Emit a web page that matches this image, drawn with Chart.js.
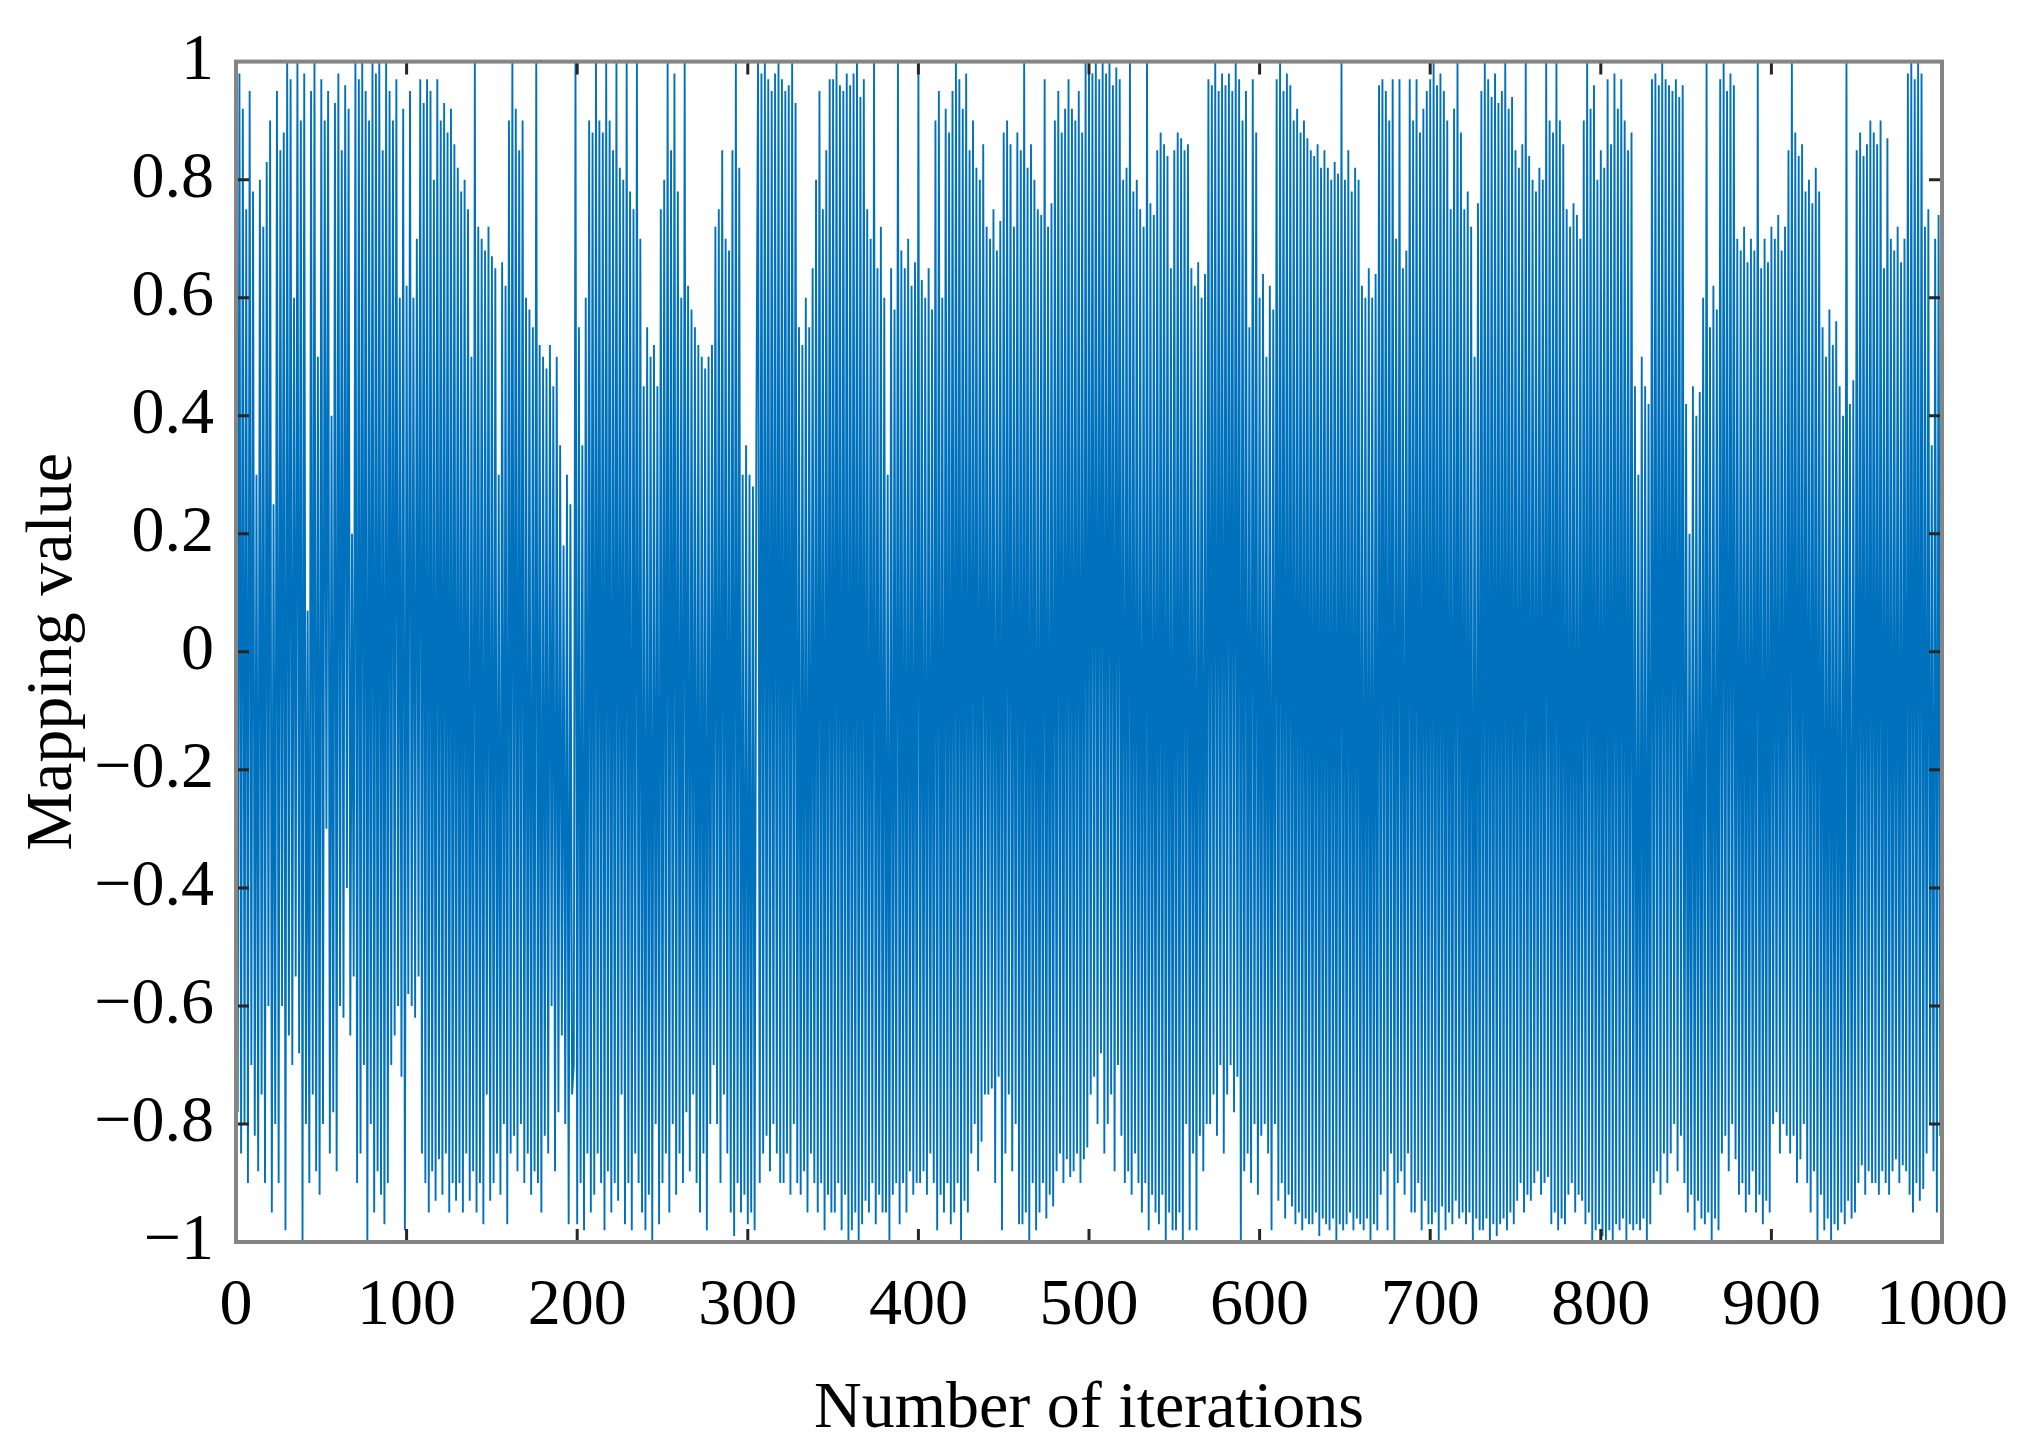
<!DOCTYPE html>
<html>
<head>
<meta charset="utf-8">
<title>Mapping value</title>
<script src="https://cdn.jsdelivr.net/npm/chart.js@4.4.0/dist/chart.umd.min.js"></script>
<style>
  html, body { margin: 0; padding: 0; background: #fff; }
  #wrap { width: 2033px; height: 1449px; position: relative; }
</style>
</head>
<body>
<div id="wrap"><canvas id="mapChart"></canvas></div>
<script>
// x axis: iteration index 0..1000
const xTicks = [0, 100, 200, 300, 400, 500, 600, 700, 800, 900, 1000];
const yTicks = [-1, -0.8, -0.6, -0.4, -0.2, 0, 0.2, 0.4, 0.6, 0.8, 1];

// mapping values, 10 per row (iterations 0..1000)
const mappingValues = [
  0.6,-0.78,0.98,-0.85,0.92,-0.8,0.75,-0.9,0.95,-0.7,
  0.78,-0.82,0.3,-0.88,0.8,-0.75,0.72,-0.9,0.83,-0.6,
  0.9,-0.95,0.25,-0.8,0.95,-0.9,0.85,-0.6,0.88,-0.98,
  1,-0.65,0.97,-0.7,0.6,-0.55,1,-0.68,0.9,-1,
  0.98,-0.8,0.07,-0.9,0.95,-0.75,1,-0.88,0.5,-0.92,
  0.97,-0.8,0.9,-0.3,0.95,-0.85,0.4,-0.78,0.93,-0.88,
  0.98,-0.6,0.85,-0.62,0.96,-0.4,0.92,-0.65,0.2,-0.55,
  1,-0.9,0.97,-0.85,1,-0.7,0.95,-1,0.9,-0.8,
  1,-0.95,0.98,-0.88,1,-0.92,0.85,-0.97,1,-0.9,
  0.95,-0.7,0.9,-0.65,0.97,-0.6,0.6,-0.72,0.92,-0.98,
  0.62,-0.58,0.95,-0.6,0.6,-0.62,0.7,-0.55,0.97,-0.85,
  0.93,-0.9,0.97,-0.95,0.95,-0.88,0.8,-0.93,0.97,-0.86,
  0.9,-0.92,0.93,-0.85,0.88,-0.95,0.92,-0.9,0.86,-0.93,
  0.82,-0.9,0.78,-0.95,0.8,-0.85,0.75,-0.93,0.5,-0.88,
  1,-0.95,0.72,-0.9,0.7,-0.97,0.68,-0.75,0.72,-0.93,
  0.67,-0.9,0.65,-0.85,0.3,-0.92,0.66,-0.8,0.62,-0.97,
  0.9,-0.85,1,-0.82,0.92,-0.88,0.85,-0.8,0.9,-0.9,
  0.6,-0.85,0.58,-0.92,0.55,-0.88,1,-0.9,0.52,-0.95,
  0.5,-0.82,0.48,-0.85,0.52,-0.6,0.45,-0.88,0.5,-0.78,
  0.35,-0.65,0.18,-0.8,0.3,-0.97,0.25,-0.75,-0.7,1,
  -0.97,0.55,-0.9,0.35,-0.98,0.6,-0.85,0.9,-0.95,0.88,
  -0.92,1,-0.85,0.9,-0.9,0.88,-0.98,1,-0.88,0.9,
  -0.95,0.85,-0.9,1,-0.93,0.82,-0.75,0.8,-0.97,1,
  -0.9,0.78,-0.98,0.75,-0.85,1,-0.9,0.7,-0.95,0.45,
  -0.98,0.55,-0.92,0.5,-1,0.52,-0.8,0.45,-0.97,0.75,
  -0.9,0.8,-0.85,1,-0.95,0.85,-0.8,0.98,-0.92,0.78,
  -0.85,0.6,-0.9,1,-0.78,0.62,-0.88,0.58,-0.75,0.55,
  -0.9,0.52,-0.95,0.5,-0.85,0.48,-0.98,0.5,-0.8,0.52,
  -0.7,0.72,-0.8,0.75,-0.9,0.85,-0.75,0.7,-0.85,0.68,
  -0.95,0.85,-0.99,1,-0.9,0.82,-0.95,0.3,-0.92,0.35,
  -0.97,0.3,-0.95,0.28,-0.98,0.35,1,-0.9,0.98,-0.85,
  1,-0.82,0.97,-0.88,0.95,-0.8,0.98,-0.85,1,-0.9,
  0.97,-0.9,0.95,-0.85,0.96,-0.92,1,-0.8,0.93,-0.9,
  0.55,-0.92,0.52,-0.88,0.6,-0.95,0.55,-0.85,0.65,-0.9,
  0.8,-0.95,0.95,-0.9,0.75,-0.98,0.85,-0.92,0.97,-0.95,
  0.97,-0.95,1,-0.9,0.96,-0.98,0.95,-0.92,0.98,-1,
  0.96,-0.98,0.98,-0.95,1,-1,0.94,-0.97,0.97,-0.93,
  0.75,-0.95,0.7,-0.9,1,-0.97,0.65,-0.92,0.72,-0.95,
  0.6,-0.95,0.3,-1,0.65,-0.92,0.58,-0.9,1,-0.97,
  0.68,-0.9,0.65,-0.95,0.7,-0.88,0.62,-0.92,0.66,-0.9,
  1,-0.9,0.63,-0.88,0.6,-0.92,0.65,-0.85,0.58,-0.9,
  0.9,-0.98,0.95,-0.92,0.6,-0.95,0.92,-0.9,0.88,-0.97,
  0.95,-0.95,1,-0.9,0.97,-1,0.92,-0.93,0.98,-0.95,
  0.85,-0.85,0.9,-0.8,0.82,-0.88,0.8,-0.83,0.86,-0.75,
  0.72,-0.75,0.7,-0.74,0.75,-0.9,0.68,-0.72,0.73,-0.98,
  0.88,-0.85,0.9,-0.75,0.86,-0.88,0.72,-0.8,0.88,-0.97,
  0.85,-0.97,1,-0.95,0.82,-1,0.86,-0.9,0.8,-0.98,
  0.75,-0.95,0.74,-0.9,0.97,-0.96,0.72,-0.92,0.76,-0.94,
  0.9,-0.88,0.95,-0.85,0.88,-0.9,0.92,-0.86,0.97,-0.89,
  0.92,-0.88,0.9,-0.85,0.95,-0.9,0.88,-0.86,1,-0.84,
  1,-0.75,0.98,-0.72,1,-0.8,0.97,-0.68,1,-0.85,
  0.98,-0.8,1,-0.75,0.96,-0.88,0.99,-0.7,0.97,-0.82,
  0.8,-0.9,0.82,-0.88,1,-0.92,0.78,-0.85,0.8,-0.9,
  0.75,-0.95,0.72,-0.9,1,-0.98,0.76,-0.92,0.74,-0.95,
  0.85,-0.97,0.88,-0.92,0.86,-1,0.84,-0.95,0.65,-0.98,
  0.85,-0.98,0.88,-0.95,0.87,-1,0.85,-0.8,0.86,-0.98,
  0.65,-0.85,0.62,-0.98,0.66,-0.82,0.6,-0.88,0.64,-0.8,
  0.97,-0.8,0.96,-0.75,1,-0.82,0.95,-0.7,0.98,-0.85,
  0.96,-0.75,0.98,-0.7,0.95,-0.78,1,-0.72,0.97,-1,
  0.9,-0.88,0.95,-0.85,0.55,-0.9,0.97,-0.8,0.88,-0.92,
  0.6,-0.82,0.64,-0.8,0.5,-0.85,0.62,-0.98,0.58,-0.8,
  0.97,-0.93,1,-0.9,0.95,-0.96,0.98,-0.92,0.96,-0.94,
  0.9,-0.97,0.92,-0.95,0.88,-0.98,0.9,-0.96,0.87,-0.97,
  0.85,-0.97,0.84,-0.95,0.86,-0.99,0.82,-0.96,0.85,-0.97,
  0.82,-0.98,0.8,-0.96,0.83,-1,0.81,-0.97,1,-0.98,
  0.8,-0.97,0.85,-0.95,0.78,-0.98,0.82,-0.96,0.8,-0.97,
  0.62,-0.98,0.6,-0.96,0.65,-1,0.6,-0.97,0.64,-0.98,
  0.96,-0.92,0.97,-0.88,0.95,-0.98,0.9,-0.85,0.97,-1,
  0.7,-0.9,0.97,-0.88,0.65,-0.92,0.68,-0.85,0.97,-0.95,
  0.9,-0.95,0.97,-0.9,0.88,-0.98,0.92,-0.93,0.95,-0.97,
  0.97,-0.97,1,-0.95,0.96,-1,0.98,-0.94,0.95,-0.98,
  0.9,-0.95,0.75,-0.97,0.92,-0.93,1,-0.96,0.88,-0.95,
  0.75,-0.97,0.78,-0.95,0.72,-1,0.5,-0.96,0.76,-0.98,
  0.95,-0.98,1,-0.96,0.97,-1,0.94,-0.97,0.98,-0.99,
  0.93,-0.97,0.95,-0.96,1,-0.98,0.92,-0.95,0.94,-0.97,
  0.85,-0.93,0.82,-0.9,0.86,-0.95,1,-0.92,0.84,-0.93,
  0.8,-0.9,0.78,-0.88,0.82,-0.92,0.8,-0.9,1,-0.89,
  0.9,-0.97,0.88,-0.95,1,-0.98,0.9,-0.96,0.86,-0.97,
  0.75,-0.92,0.72,-0.9,0.76,-0.95,0.74,-0.92,0.7,-0.93,
  0.9,-0.97,1,-0.95,0.92,-1,0.96,-0.98,0.8,-0.97,
  0.85,-0.99,0.82,-1,0.97,-0.98,0.86,-1,0.98,-0.97,
  0.92,-0.98,0.97,-0.96,0.9,-1,0.85,-0.97,0.88,-0.98,
  0.45,-0.97,0.3,-0.98,0.5,-0.96,0.45,-1,0.42,-0.97,
  0.97,-0.9,0.98,-0.88,0.96,-0.92,1,-0.85,0.97,-0.9,
  0.96,-0.85,0.95,-0.8,0.97,-0.88,0.94,-0.82,0.96,-0.9,
  0.42,-0.95,0.2,-0.92,0.45,-0.98,0.4,-0.93,0.44,-0.96,
  0.6,-0.97,1,-0.95,0.55,-1,0.62,-0.96,0.58,-0.98,
  0.97,-0.85,1,-0.82,0.95,-0.88,0.98,-0.8,0.96,-0.86,
  0.7,-0.92,0.68,-0.9,0.72,-0.95,0.66,-0.92,0.7,-0.88,
  0.68,-0.95,1,-0.92,0.65,-0.97,0.7,-0.93,0.66,-0.95,
  0.72,-0.8,0.7,-0.78,0.74,-0.85,0.68,-0.8,0.72,-0.82,
  0.85,-0.85,1,-0.82,0.88,-0.9,0.84,-0.86,0.86,-0.8,
  0.78,-0.9,0.8,-0.95,0.76,-0.88,0.82,-1,0.78,-0.92,
  0.55,-0.98,0.5,-0.96,0.58,-1,0.52,-0.97,0.56,-0.98,
  0.45,-0.95,0.4,-0.97,1,-0.93,0.42,-0.96,0.46,-0.95,
  0.85,-0.9,0.88,-0.87,0.84,-0.92,0.86,-0.88,0.9,-0.9,
  0.88,-0.9,0.86,-0.92,0.9,-0.88,0.65,-0.9,0.87,-0.92,
  0.7,-0.88,0.68,-0.86,0.72,-0.9,0.66,-0.87,0.7,-0.88,
  0.98,-0.92,1,-0.95,0.97,-0.9,1,-0.93,0.98,-0.91,
  0.72,-0.85,0.75,-0.8,0.35,-0.88,0.7,-0.95,0.74,-0.82,
  0.05
];

const serif = '"Liberation Serif", "Times New Roman", serif';

// MATLAB-style box with inward tick marks on all four sides
const boxTicks = {
  id: 'boxTicks',
  afterDraw(chart) {
    const ctx = chart.ctx;
    const a = chart.chartArea;
    const xs = chart.scales.x, ys = chart.scales.y;
    const len = 13;
    ctx.save();
    ctx.strokeStyle = '#262626';
    ctx.lineWidth = 3;
    ctx.beginPath();
    xTicks.forEach(v => {
      const px = xs.getPixelForValue(v);
      ctx.moveTo(px, a.bottom); ctx.lineTo(px, a.bottom - len);
      ctx.moveTo(px, a.top); ctx.lineTo(px, a.top + len);
    });
    yTicks.forEach(v => {
      const py = ys.getPixelForValue(v);
      ctx.moveTo(a.left, py); ctx.lineTo(a.left + len, py);
      ctx.moveTo(a.right, py); ctx.lineTo(a.right - len, py);
    });
    ctx.stroke();
    ctx.strokeStyle = '#858585';
    ctx.lineWidth = 4;
    ctx.strokeRect(a.left, a.top, a.right - a.left, a.bottom - a.top);
    ctx.restore();
  }
};

const fmt = v => {
  const s = Math.abs(v) < 1e-9 ? '0' : String(Math.round(Math.abs(v) * 10) / 10);
  return v < -1e-9 ? '\u2212' + s : s;
};

const ctx = document.getElementById('mapChart').getContext('2d');
const mapChart = new Chart(ctx, {
  type: 'line',
  data: {
    datasets: [{
      data: mappingValues.map((v, i) => ({ x: i, y: v })),
      borderColor: '#0071bc',
      borderWidth: 1.9,
      pointRadius: 0,
      tension: 0,
      fill: false
    }]
  },
  options: {
    responsive: true,
    maintainAspectRatio: false,
    animation: false,
    devicePixelRatio: 1,
    layout: { padding: { left: 0, right: 84, top: 41, bottom: 0 } },
    plugins: { legend: { display: false }, tooltip: { enabled: false } },
    scales: {
      x: {
        type: 'linear',
        min: 0,
        max: 1000,
        afterBuildTicks: s => { s.ticks = xTicks.map(v => ({ value: v })); },
        afterFit: s => { s.height = 207; },
        grid: { display: false, drawTicks: false },
        border: { display: false },
        ticks: {
          color: '#000',
          padding: 25,
          maxRotation: 0,
          autoSkip: false,
          font: { family: serif, size: 66 },
          callback: v => String(v)
        },
        title: {
          display: true,
          text: 'Number of iterations',
          color: '#000',
          padding: { top: 0, bottom: 0 },
          font: { family: serif, size: 66 }
        }
      },
      y: {
        type: 'linear',
        min: -1,
        max: 1,
        afterBuildTicks: s => { s.ticks = yTicks.map(v => ({ value: v })); },
        afterFit: s => { s.width = 236; },
        grid: { display: false, drawTicks: false },
        border: { display: false },
        ticks: {
          color: '#000',
          padding: 22,
          labelOffset: 0,
          autoSkip: false,
          font: { family: serif, size: 66 },
          callback: v => fmt(v)
        },
        title: {
          display: true,
          text: 'Mapping value',
          color: '#000',
          padding: { top: 14, bottom: 0 },
          font: { family: serif, size: 66 }
        }
      }
    }
  },
  plugins: [boxTicks]
});
</script>
</body>
</html>
